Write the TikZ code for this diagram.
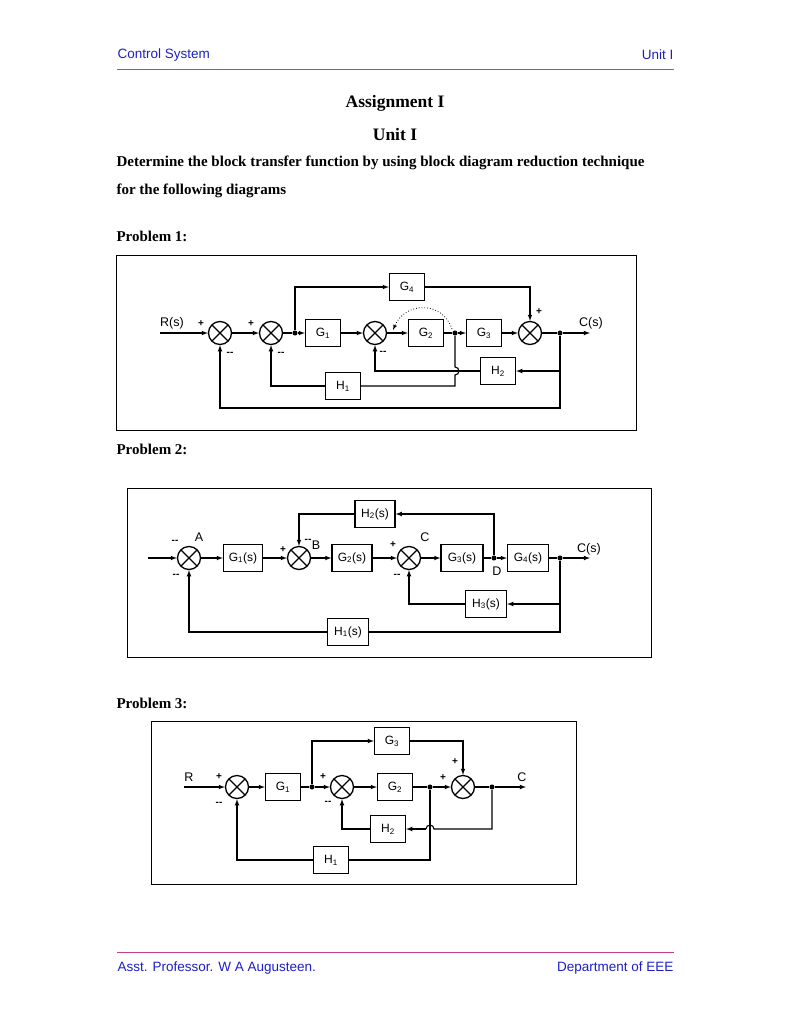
\documentclass[tikz,border=0pt]{standalone}
\usepackage{fontspec}
\setmainfont{Liberation Serif}
\newfontfamily\diagfont{Liberation Sans}
\usetikzlibrary{arrows}
\definecolor{hdrblue}{RGB}{30,30,200}
\definecolor{hdrrule}{RGB}{200,60,140}
\newcommand{\sub}[1]{\textsubscript{#1}}
\tikzset{
  block/.style={draw,line width=1.3pt,minimum width=35pt,minimum height=27pt,inner sep=0pt,font=\diagfont\fontsize{12}{13}\selectfont},
  sum/.style={draw,line width=1.3pt,circle,minimum size=23pt,inner sep=0pt,
    path picture={\draw[line width=1.3pt] (path picture bounding box.center) +(45:11.5pt) -- +(225:11.5pt)
      (path picture bounding box.center) +(135:11.5pt) -- +(-45:11.5pt);}},
  dot/.style={circle,fill,inner sep=1.8pt},
  sig/.style={font=\diagfont\bfseries\fontsize{10}{11}\selectfont,inner sep=1pt},
  lbl/.style={font=\diagfont\fontsize{12.5}{13}\selectfont},
  hdr/.style={font=\diagfont\fontsize{13.5}{15}\selectfont,text=hdrblue},
  prob/.style={anchor=west,font=\bfseries\fontsize{15}{17}\selectfont},
  flow/.style={line width=1.1pt,-latex},
  line/.style={line width=1.1pt}
}
\begin{document}
\begin{tikzpicture}[x=1pt,y=-1pt]
		\useasboundingbox (0,0) rectangle (791,1023);
		
		% header and footer
		\node[hdr,anchor=west] (hl) at (114,55) {Control System};
		\node[hdr,anchor=east] (hr) at (677,55) {Unit I};
		\draw[hdrrule,thin] (117,69) -- (674,69);
		\draw[hdrrule,thin] (117,952) -- (674,952);
		\node[hdr,anchor=west] (fl) at (114,968) {Asst. Professor. W A Augusteen.};
		\node[hdr,anchor=east] (fr) at (677,968) {Department of EEE};
		
		% title and question
		\node[font=\bfseries\fontsize{17.5}{20}\selectfont] (title) at (395,103) {Assignment I};
		\node[font=\bfseries\fontsize{17.5}{20}\selectfont] (unit) at (395,135) {Unit I};
		\node[prob] (q1) at (113,163) {Determine the block transfer function by using block diagram reduction technique};
		\node[prob] (q2) at (113,191) {for the following diagrams};
		\node[prob] (p1) at (113,236) {Problem 1:};
		\node[prob] (p2) at (113,449) {Problem 2:};
		\node[prob] (p3) at (113,703) {Problem 3:};
		
		% ---------- Problem 1 ----------
		\draw (116,255) rectangle (636,430);
		\node[sum] (s1) at (220,333) {};
		\node[sum] (s2) at (271,333) {};
		\node[block] (g1) at (323,333) {G\sub{1}};
		\node[sum] (s3) at (375,333) {};
		\node[block] (g2) at (426,333) {G\sub{2}};
		\node[block] (g3) at (484,333) {G\sub{3}};
		\node[sum] (s4) at (530,333) {};
		\node[block] (g4) at (407,287) {G\sub{4}};
		\node[block] (h2) at (498,371) {H\sub{2}};
		\node[block] (h1) at (343,386) {H\sub{1}};
		\node[dot] (b1) at (295,333) {};
		\node[dot] (b2) at (455,333) {};
		\node[dot] (b3) at (560,333) {};
		\coordinate (in1) at (160,333);
		\coordinate (out1) at (590,333);
		\node[lbl] (r1) at (172,323) {R(s)};
		\node[lbl] (c1) at (591,323) {C(s)};
		\draw[flow] (in1) -- (s1);
		\draw[flow] (s1) -- (s2);
		\draw[line] (s2) -- (b1);
		\draw[flow] (b1) -- (g1);
		\draw[flow] (g1) -- (s3);
		\draw[flow] (s3) -- (g2);
		\draw[line] (g2) -- (b2);
		\draw[flow] (b2) -- (g3);
		\draw[flow] (g3) -- (s4);
		\draw[line] (s4) -- (b3);
		\draw[flow] (b3) -- (out1);
		\draw[flow] (b1) |- (g4);
		\draw[flow] (g4) -| (s4);
		\draw[flow] (b3) |- (h2);
		\draw[flow] (h2) -| (s3);
		\draw[line] (b2) -- (455,367) arc (-90:90:4) |- (h1);
		\draw[flow] (h1) -| (s2);
		\draw[flow] (b3) |- (220,408) -- (s1);
		\draw[dotted,thick,-latex] (452,329) .. controls (442,300) and (405,302) .. (393,330);
		\node[sig] at (201,324) {+};
		\node[sig] at (230,354) {--};
		\node[sig] at (251,324) {+};
		\node[sig] at (281,354) {--};
		\node[sig] at (383,353) {--};
		\node[sig] at (539,312) {+};
		
		% ---------- Problem 2 ----------
		\draw (127,488) rectangle (651,657);
		\node[sum] (sa) at (189,558) {};
		\node[block,minimum width=39pt] (f1) at (243,558) {G\sub{1}(s)};
		\node[sum] (sb) at (299,558) {};
		\node[block,minimum width=40pt] (f2) at (352,558) {G\sub{2}(s)};
		\node[sum] (sc) at (409,558) {};
		\node[block,minimum width=42pt] (f3) at (462,558) {G\sub{3}(s)};
		\node[block,minimum width=41pt] (f4) at (528,558) {G\sub{4}(s)};
		\node[block,minimum width=40pt] (k2) at (375,514) {H\sub{2}(s)};
		\node[block,minimum width=41pt] (k3) at (486,604) {H\sub{3}(s)};
		\node[block,minimum width=41pt] (k1) at (348,632) {H\sub{1}(s)};
		\node[dot] (dd) at (494,558) {};
		\node[dot] (bo) at (560,558) {};
		\coordinate (in2) at (148,558);
		\coordinate (out2) at (590,558);
		\node[lbl] (c2) at (589,549) {C(s)};
		\node[lbl] (la) at (199,537) {A};
		\node[lbl] (lb) at (316,545) {B};
		\node[lbl] (lc) at (425,537) {C};
		\node[lbl] (ld) at (497,571) {D};
		\draw[flow] (in2) -- (sa);
		\draw[flow] (sa) -- (f1);
		\draw[flow] (f1) -- (sb);
		\draw[flow] (sb) -- (f2);
		\draw[flow] (f2) -- (sc);
		\draw[flow] (sc) -- (f3);
		\draw[line] (f3) -- (dd);
		\draw[flow] (dd) -- (f4);
		\draw[line] (f4) -- (bo);
		\draw[flow] (bo) -- (out2);
		\draw[flow] (dd) |- (k2);
		\draw[flow] (k2) -| (sb);
		\draw[flow] (bo) |- (k3);
		\draw[flow] (k3) -| (sc);
		\draw[line] (bo) |- (k1);
		\draw[flow] (k1) -| (sa);
		\node[sig] at (175,542) {--};
		\node[sig] at (176,576) {--};
		\node[sig] at (283,550) {+};
		\node[sig] at (308,541) {--};
		\node[sig] at (393,545) {+};
		\node[sig] at (397,576) {--};
		
		% ---------- Problem 3 ----------
		\draw (151,721) rectangle (576,884);
		\node[sum] (t1) at (237,787) {};
		\node[block] (e1) at (283,787) {G\sub{1}};
		\node[sum] (t2) at (342,787) {};
		\node[block] (e2) at (395,787) {G\sub{2}};
		\node[sum] (t3) at (463,787) {};
		\node[block] (e3) at (392,741) {G\sub{3}};
		\node[block] (m2) at (388,829) {H\sub{2}};
		\node[block] (m1) at (331,860) {H\sub{1}};
		\node[dot] (d1) at (312,787) {};
		\node[dot] (d2) at (430,787) {};
		\node[dot] (d3) at (492,787) {};
		\coordinate (in3) at (184,787);
		\coordinate (out3) at (526,787);
		\node[lbl] (r3) at (189,777) {R};
		\node[lbl] (c3) at (522,777) {C};
		\draw[flow] (in3) -- (t1);
		\draw[flow] (t1) -- (e1);
		\draw[line] (e1) -- (d1);
		\draw[flow] (d1) -- (t2);
		\draw[flow] (t2) -- (e2);
		\draw[line] (e2) -- (d2);
		\draw[flow] (d2) -- (t3);
		\draw[line] (t3) -- (d3);
		\draw[flow] (d3) -- (out3);
		\draw[flow] (d1) |- (e3);
		\draw[flow] (e3) -| (t3);
		\draw[line] (d3) |- (434,829) arc (0:-180:4);
		\draw[flow] (426,829) -- (m2);
		\draw[flow] (m2) -| (t2);
		\draw[line] (d2) |- (m1);
		\draw[flow] (m1) -| (t1);
		\node[sig] at (219,777) {+};
		\node[sig] at (219,804) {--};
		\node[sig] at (323,777) {+};
		\node[sig] at (328,803) {--};
		\node[sig] at (443,778) {+};
		\node[sig] at (455,762) {+};
\end{tikzpicture}
\end{document}
